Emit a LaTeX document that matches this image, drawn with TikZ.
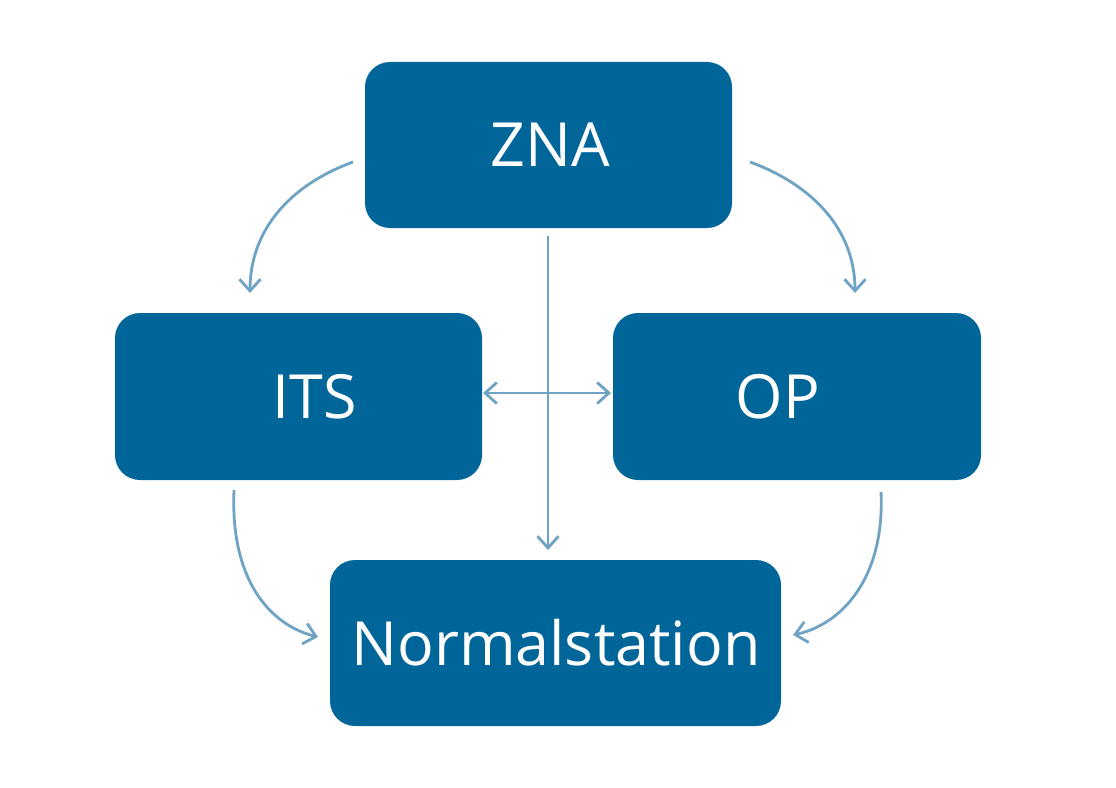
\documentclass[tikz,border=0pt]{standalone}
\usepackage{fontspec}
\setmainfont{Open Sans}
\usetikzlibrary{arrows.meta}
\definecolor{boxc}{HTML}{00669A}
\definecolor{arrc}{HTML}{6FA3C3}
\begin{document}
\begin{tikzpicture}[x=0.03cm,y=-0.03cm,
  box/.style={fill=boxc,rounded corners=0.75cm,inner sep=0pt},
  lbl/.style={text=white,font=\fontsize{52}{60}\selectfont},
  conn/.style={draw=arrc,line width=2.4pt,-{Straight Barb[length=10pt,width=18pt,line width=2.4pt]}}]
\useasboundingbox (0,0) rectangle (1116,788);
\fill[box] (365,62) rectangle (732,228);
\fill[box] (115,313) rectangle (482,480);
\fill[box] (613,313) rectangle (981,480);
\fill[box] (330,560) rectangle (781,726);
\node[lbl] (zna) at (550,145) {ZNA};
\node[lbl] (its) at (315,397) {ITS};
\node[lbl] (op) at (778,397) {OP};
\node[lbl] (norm) at (556,643) {Normalstation};
\coordinate (a1) at (353,162); \coordinate (a2) at (250,293);
\coordinate (b1) at (750,162); \coordinate (b2) at (855,293);
\coordinate (c1) at (548,236); \coordinate (c2) at (548,550);
\coordinate (d1) at (483,393); \coordinate (d2) at (611,393);
\coordinate (e1) at (234,490); \coordinate (e2) at (318,637);
\coordinate (f1) at (881,492); \coordinate (f2) at (793,635);
\draw[conn] (a1) .. controls (290,185) and (250,230) .. (a2);
\draw[conn] (b1) .. controls (813,185) and (855,230) .. (b2);
\draw[conn] (c1) -- (c2);
\draw[conn,{Straight Barb[length=10pt,width=18pt,line width=2.4pt]}-{Straight Barb[length=10pt,width=18pt,line width=2.4pt]}] (d1) -- (d2);
\draw[conn] (e1) .. controls (230,580) and (270,625) .. (e2);
\draw[conn] (f1) .. controls (885,580) and (840,625) .. (f2);
\end{tikzpicture}
\end{document}
